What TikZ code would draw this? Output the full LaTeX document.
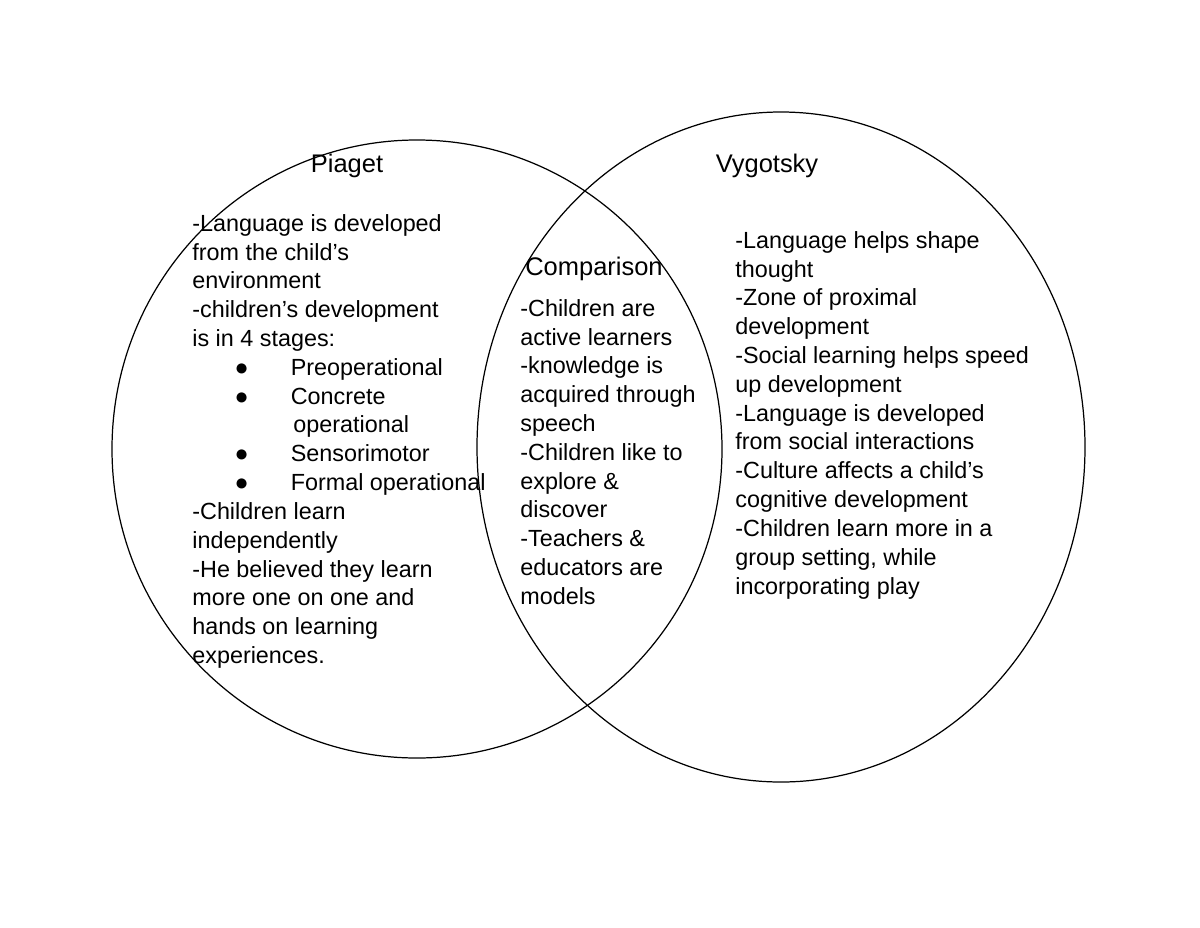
\documentclass[tikz,border=0pt]{standalone}
\usepackage{fontspec}
\setmainfont{Liberation Sans}
\begin{document}
\begin{tikzpicture}[x=0.02cm,y=-0.02cm,
  txt/.style={anchor=north west,align=left,inner sep=0pt,font=\fontsize{13.3pt}{16.4pt}\selectfont},
  ttl/.style={inner sep=0pt,font=\fontsize{14.5pt}{17pt}\selectfont},
  ring/.style={draw,line width=0.7pt}]
\useasboundingbox (0,0) rectangle (1200,927);
\draw[ring] (417,449) ellipse [x radius=305, y radius=309];
\draw[ring] (781,447) ellipse [x radius=304, y radius=335];
\node[ttl] (piaget) at (347,166) {Piaget};
\node[ttl] (vyg) at (767,166) {Vygotsky};
\node[ttl] (comp) at (594,269) {Comparison};
\node[txt] (left) at (192,214) {-Language is developed\\from the child’s\\environment\\-children’s development\\is in 4 stages:\\
\hspace*{24pt}●\hspace*{24pt}Preoperational\\\hspace*{24pt}●\hspace*{24pt}Concrete\\\hspace*{57.5pt}operational\\
\hspace*{24pt}●\hspace*{24pt}Sensorimotor\\\hspace*{24pt}●\hspace*{24pt}Formal operational\\
-Children learn\\independently\\-He believed they learn\\more one on one and\\hands on learning\\experiences.};
\node[txt] (mid) at (520,299) {-Children are\\active learners\\-knowledge is\\acquired through\\speech\\-Children like to\\explore \&\\discover\\-Teachers \&\\educators are\\models};
\node[txt] (right) at (735,231) {-Language helps shape\\thought\\-Zone of proximal\\development\\-Social learning helps speed\\up development\\-Language is developed\\from social interactions\\-Culture affects a child’s\\cognitive development\\-Children learn more in a\\group setting, while\\incorporating play};
\end{tikzpicture}
\end{document}
